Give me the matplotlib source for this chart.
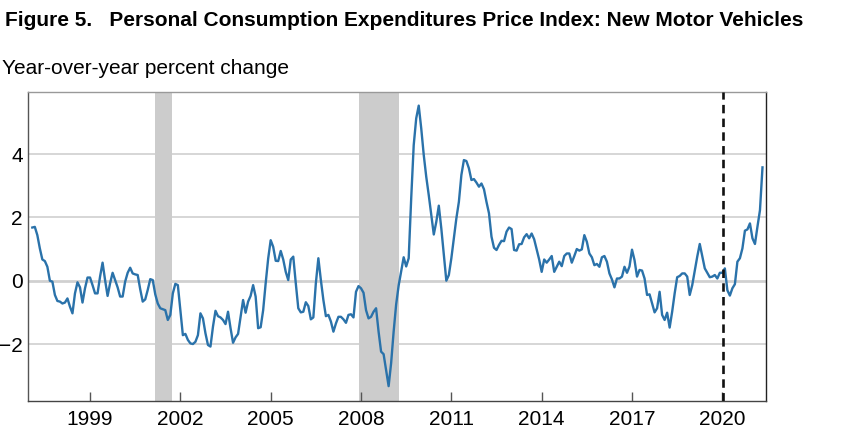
import matplotlib
matplotlib.use("Agg")
import matplotlib.pyplot as plt
import numpy as np

plt.rcParams['font.family'] = ['Liberation Sans', 'DejaVu Sans']

# Monthly year-over-year percent change, starting Feb 1997
start_year = 1997
start_month = 2
pce_new_vehicles = [
    # 1997 (Feb-Dec)
    1.68, 1.70, 1.44, 1.02, 0.67, 0.62, 0.44, 0.00, -0.03, -0.45, -0.64,
    # 1998
    -0.66, -0.72, -0.69, -0.56, -0.82, -1.03, -0.40, -0.05, -0.21, -0.69, -0.24, 0.10,
    # 1999
    0.10, -0.14, -0.40, -0.40, 0.13, 0.57, 0.02, -0.48, -0.08, 0.25, 0.02, -0.21,
    # 2000
    -0.50, -0.50, -0.03, 0.25, 0.41, 0.23, 0.20, 0.18, -0.27, -0.66, -0.59, -0.29,
    # 2001
    0.05, 0.02, -0.43, -0.72, -0.87, -0.90, -0.93, -1.24, -1.08, -0.40, -0.10, -0.14,
    # 2002
    -0.93, -1.72, -1.68, -1.87, -1.98, -2.00, -1.93, -1.72, -1.03, -1.19, -1.66, -2.03,
    # 2003
    -2.08, -1.45, -0.95, -1.12, -1.16, -1.24, -1.37, -0.98, -1.50, -1.96, -1.79, -1.68,
    # 2004
    -1.14, -0.61, -1.01, -0.66, -0.48, -0.14, -0.50, -1.50, -1.47, -0.93, -0.08, 0.70,
    # 2005
    1.28, 1.07, 0.63, 0.62, 0.94, 0.67, 0.28, 0.02, 0.67, 0.76, -0.08, -0.87,
    # 2006
    -1.00, -0.98, -0.68, -0.80, -1.22, -1.16, -0.08, 0.71, 0.02, -0.61, -1.12, -1.08,
    # 2007
    -1.29, -1.61, -1.35, -1.14, -1.14, -1.22, -1.33, -1.08, -1.06, -1.16, -0.35, -0.17,
    # 2008
    -0.24, -0.38, -0.93, -1.19, -1.14, -0.98, -0.87, -1.61, -2.24, -2.32, -2.82, -3.33,
    # 2009
    -2.60, -1.61, -0.75, -0.15, 0.30, 0.74, 0.45, 0.71, 2.60, 4.28, 5.13, 5.53,
    # 2010
    4.81, 3.97, 3.28, 2.70, 2.07, 1.46, 1.86, 2.37, 1.65, 0.81, 0.00, 0.18,
    # 2011
    0.71, 1.34, 1.97, 2.49, 3.34, 3.81, 3.78, 3.55, 3.18, 3.21, 3.10, 2.97,
    # 2012
    3.07, 2.89, 2.49, 2.13, 1.39, 1.04, 0.97, 1.13, 1.26, 1.25, 1.55, 1.68,
    # 2013
    1.63, 0.97, 0.95, 1.15, 1.16, 1.37, 1.47, 1.34, 1.49, 1.31, 0.99, 0.67,
    # 2014
    0.28, 0.67, 0.57, 0.67, 0.78, 0.28, 0.44, 0.60, 0.46, 0.78, 0.86, 0.86,
    # 2015
    0.57, 0.78, 1.00, 0.95, 0.99, 1.44, 1.23, 0.86, 0.74, 0.49, 0.53, 0.44,
    # 2016
    0.74, 0.78, 0.60, 0.23, 0.04, -0.21, 0.07, 0.07, 0.13, 0.44, 0.25, 0.45,
    # 2017
    0.98, 0.65, 0.13, 0.34, 0.32, 0.07, -0.45, -0.43, -0.72, -1.00, -0.87, -0.35,
    # 2018
    -1.08, -1.24, -1.01, -1.48, -0.98, -0.40, 0.11, 0.15, 0.23, 0.23, 0.13, -0.45,
    # 2019
    -0.14, 0.32, 0.76, 1.16, 0.78, 0.39, 0.25, 0.11, 0.13, 0.18, 0.07, 0.25,
    # 2020
    0.25, 0.39, -0.30, -0.47, -0.24, -0.11, 0.60, 0.71, 1.02, 1.58, 1.62, 1.81,
    # 2021 (Jan-May)
    1.34, 1.16, 1.71, 2.23, 3.58,
]

recessions = [(2001.16, 2001.71), (2007.93, 2009.27)]
covid_marker = 2020.02
year_ticks = [1999, 2002, 2005, 2008, 2011, 2014, 2017, 2020]
y_ticks = [-2, 0, 2, 4]
y_tick_labels = ['\u22122', '0', '2', '4']

title = "Figure 5.   Personal Consumption Expenditures Price Index: New Motor Vehicles"
subtitle = "Year-over-year percent change"

n = len(pce_new_vehicles)
x = start_year + (start_month - 1 + np.arange(n)) / 12.0

fig = plt.figure(figsize=(8.5, 4.45), dpi=100)
ax = fig.add_axes([28.3 / 850, 1 - 400.7 / 445, (766 - 28.3) / 850, (400.7 - 91.7) / 445])

for a, b in recessions:
    ax.axvspan(a, b, color='#cccccc', lw=0, zorder=1)

for yv in y_ticks:
    ax.axhline(yv, color='#d0d0d0', lw=1.2 if yv != 0 else 2.0, zorder=0.5)

ax.plot(x, pce_new_vehicles, color='#2a72aa', lw=1.7, zorder=3, solid_joinstyle='round')
ax.axvline(covid_marker, color='#111111', lw=1.9, linestyle=(0, (3.2, 2.0)), zorder=4)

ax.set_xlim(1996.95, 2021.45)
ax.set_ylim(-3.79, 5.97)
ax.set_xticks(year_ticks)
ax.set_xticklabels([str(t) for t in year_ticks])
ax.set_yticks(y_ticks)
ax.set_yticklabels(y_tick_labels)

ax.tick_params(axis='x', direction='in', length=6.5, width=1.0, color='#555555',
               labelsize=15, pad=7)
ax.tick_params(axis='y', length=0, labelsize=15, pad=4)

ax.spines['top'].set_color('#999999')
ax.spines['right'].set_color('#222222')
ax.spines['left'].set_color('#555555')
ax.spines['bottom'].set_color('#444444')
for s in ax.spines.values():
    s.set_linewidth(1.0)

fig.text(5 / 850, 1 - 20 / 445, title, fontsize=15, fontweight='bold', va='center', ha='left')
fig.text(2 / 850, 1 - 68 / 445, subtitle, fontsize=15, va='center', ha='left')

fig.savefig('out.png', dpi=100)
